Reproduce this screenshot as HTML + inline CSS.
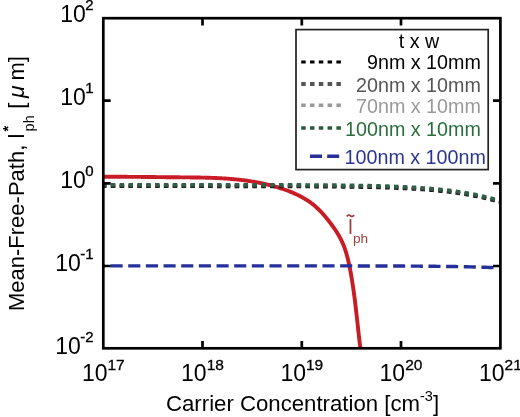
<!DOCTYPE html>
<html><head><meta charset="utf-8"><style>
html,body{margin:0;padding:0;background:#fff;}
body{width:520px;height:417px;overflow:hidden;}
svg{display:block;}
text{font-family:"Liberation Sans", Arial, Helvetica, sans-serif;}
</style></head><body>
<svg width="520" height="417" viewBox="0 0 520 417">
<rect width="520" height="417" fill="#fff"/>
<defs><clipPath id="ax"><rect x="103.3" y="18.2" width="397.10" height="330.10"/></clipPath></defs>
<g clip-path="url(#ax)" fill="none">
 <path d="M103.30,176.81 L104.05,176.81 L104.79,176.80 L105.54,176.80 L106.29,176.80 L107.03,176.80 L107.78,176.79 L108.53,176.79 L109.27,176.79 L110.02,176.79 L110.77,176.79 L111.52,176.78 L112.26,176.78 L113.01,176.78 L113.76,176.78 L114.50,176.78 L115.25,176.78 L116.00,176.78 L116.74,176.79 L117.49,176.79 L118.24,176.79 L118.98,176.79 L119.73,176.79 L120.48,176.79 L121.22,176.80 L121.97,176.80 L122.72,176.80 L123.46,176.80 L124.21,176.81 L124.96,176.81 L125.70,176.81 L126.45,176.82 L127.20,176.82 L127.94,176.83 L128.69,176.83 L129.44,176.83 L130.18,176.84 L130.93,176.84 L131.68,176.85 L132.42,176.85 L133.17,176.86 L133.92,176.86 L134.66,176.87 L135.41,176.88 L136.16,176.88 L136.90,176.89 L137.65,176.89 L138.40,176.90 L139.14,176.91 L139.89,176.91 L140.64,176.92 L141.38,176.93 L142.13,176.93 L142.88,176.94 L143.62,176.95 L144.37,176.95 L145.12,176.96 L145.86,176.97 L146.61,176.98 L147.36,176.98 L148.10,176.99 L148.85,177.00 L149.60,177.01 L150.34,177.01 L151.09,177.02 L151.84,177.03 L152.58,177.04 L153.33,177.05 L154.08,177.05 L154.82,177.06 L155.57,177.07 L156.32,177.08 L157.06,177.09 L157.81,177.10 L158.56,177.10 L159.30,177.11 L160.05,177.12 L160.80,177.13 L161.55,177.14 L162.29,177.14 L163.04,177.15 L163.79,177.16 L164.53,177.17 L165.28,177.18 L166.03,177.19 L166.77,177.19 L167.52,177.20 L168.27,177.21 L169.01,177.22 L169.76,177.23 L170.51,177.23 L171.26,177.24 L172.00,177.25 L172.75,177.26 L173.50,177.26 L174.24,177.27 L174.99,177.28 L175.74,177.29 L176.49,177.29 L177.23,177.30 L177.98,177.31 L178.73,177.32 L179.47,177.32 L180.22,177.33 L180.97,177.34 L181.72,177.34 L182.46,177.35 L183.21,177.36 L183.96,177.36 L184.71,177.37 L185.45,177.38 L186.20,177.38 L186.95,177.39 L187.70,177.40 L188.44,177.41 L189.19,177.41 L189.94,177.42 L190.69,177.43 L191.43,177.44 L192.18,177.45 L192.93,177.45 L193.68,177.46 L194.42,177.47 L195.17,177.48 L195.92,177.49 L196.66,177.50 L197.41,177.52 L198.16,177.53 L198.91,177.54 L199.65,177.55 L200.40,177.57 L201.15,177.58 L201.89,177.60 L202.64,177.61 L203.39,177.63 L204.14,177.64 L204.88,177.66 L205.63,177.68 L206.38,177.70 L207.12,177.72 L207.87,177.74 L208.61,177.76 L209.36,177.78 L210.11,177.81 L210.85,177.83 L211.60,177.86 L212.35,177.88 L213.09,177.91 L213.84,177.94 L214.58,177.97 L215.33,178.00 L216.07,178.03 L216.82,178.07 L217.56,178.10 L218.31,178.14 L219.06,178.17 L219.80,178.21 L220.55,178.25 L221.29,178.29 L222.03,178.33 L222.78,178.38 L223.52,178.42 L224.27,178.47 L225.01,178.51 L225.76,178.56 L226.50,178.61 L227.24,178.67 L227.99,178.72 L228.73,178.78 L229.47,178.83 L230.22,178.89 L230.96,178.95 L231.70,179.01 L232.45,179.08 L233.19,179.14 L233.93,179.21 L234.67,179.28 L235.41,179.35 L236.16,179.42 L236.90,179.50 L237.64,179.57 L238.38,179.65 L239.12,179.73 L239.86,179.82 L240.60,179.90 L241.34,179.99 L242.08,180.08 L242.82,180.17 L243.56,180.26 L244.30,180.35 L245.04,180.45 L245.78,180.55 L246.52,180.65 L247.26,180.76 L248.00,180.86 L248.74,180.97 L249.48,181.08 L250.21,181.19 L250.95,181.31 L251.69,181.43 L252.43,181.55 L253.16,181.67 L253.90,181.79 L254.63,181.92 L255.37,182.05 L256.10,182.18 L256.84,182.32 L257.57,182.45 L258.31,182.59 L259.04,182.74 L259.77,182.88 L260.50,183.03 L261.24,183.18 L261.97,183.33 L262.70,183.49 L263.43,183.65 L264.16,183.81 L264.89,183.97 L265.62,184.14 L266.34,184.31 L267.07,184.48 L267.80,184.65 L268.52,184.83 L269.25,185.01 L269.97,185.19 L270.70,185.38 L271.42,185.57 L272.14,185.76 L272.86,185.96 L273.58,186.15 L274.30,186.36 L275.02,186.56 L275.74,186.77 L276.46,186.98 L277.17,187.19 L277.89,187.41 L278.60,187.62 L279.32,187.85 L280.03,188.07 L280.74,188.30 L281.45,188.53 L282.17,188.77 L282.87,189.01 L283.58,189.25 L284.29,189.49 L285.00,189.74 L285.70,189.99 L286.41,190.25 L287.11,190.51 L287.81,190.77 L288.51,191.03 L289.21,191.30 L289.91,191.58 L290.60,191.85 L291.30,192.13 L291.99,192.42 L292.68,192.71 L293.37,193.00 L294.05,193.30 L294.74,193.60 L295.42,193.91 L296.10,194.22 L296.77,194.53 L297.45,194.85 L298.12,195.18 L298.79,195.51 L299.45,195.84 L300.12,196.18 L300.78,196.52 L301.43,196.87 L302.09,197.23 L302.74,197.58 L303.38,197.95 L304.02,198.32 L304.66,198.69 L305.30,199.08 L305.93,199.46 L306.56,199.85 L307.18,200.25 L307.80,200.66 L308.42,201.07 L309.03,201.48 L309.64,201.91 L310.24,202.33 L310.84,202.77 L311.43,203.21 L312.02,203.66 L312.60,204.11 L313.18,204.57 L313.76,205.04 L314.33,205.51 L314.89,205.99 L315.45,206.48 L316.00,206.97 L316.55,207.46 L317.10,207.97 L317.64,208.48 L318.18,208.99 L318.71,209.51 L319.24,210.04 L319.76,210.57 L320.28,211.10 L320.80,211.64 L321.31,212.19 L321.82,212.73 L322.32,213.29 L322.83,213.84 L323.32,214.40 L323.82,214.97 L324.31,215.53 L324.80,216.11 L325.28,216.68 L325.77,217.26 L326.25,217.84 L326.72,218.42 L327.20,219.00 L327.67,219.59 L328.14,220.18 L328.60,220.77 L329.07,221.37 L329.53,221.96 L329.99,222.56 L330.45,223.16 L330.90,223.76 L331.35,224.36 L331.80,224.97 L332.25,225.57 L332.69,226.18 L333.13,226.79 L333.56,227.40 L334.00,228.02 L334.42,228.64 L334.85,229.26 L335.27,229.88 L335.68,230.50 L336.09,231.13 L336.50,231.76 L336.90,232.39 L337.29,233.02 L337.69,233.66 L338.07,234.29 L338.45,234.94 L338.83,235.58 L339.19,236.23 L339.56,236.87 L339.91,237.53 L340.27,238.18 L340.61,238.84 L340.95,239.50 L341.28,240.16 L341.60,240.83 L341.92,241.50 L342.23,242.17 L342.53,242.84 L342.83,243.52 L343.12,244.20 L343.40,244.89 L343.68,245.57 L343.94,246.26 L344.21,246.95 L344.46,247.65 L344.71,248.35 L344.96,249.05 L345.19,249.75 L345.43,250.45 L345.65,251.16 L345.87,251.87 L346.09,252.58 L346.30,253.29 L346.51,254.00 L346.71,254.72 L346.91,255.43 L347.10,256.15 L347.29,256.87 L347.48,257.59 L347.66,258.32 L347.84,259.04 L348.01,259.77 L348.19,260.49 L348.35,261.22 L348.52,261.95 L348.68,262.68 L348.84,263.41 L349.00,264.14 L349.16,264.87 L349.31,265.60 L349.46,266.33 L349.61,267.07 L349.76,267.80 L349.90,268.53 L350.05,269.26 L350.19,270.00 L350.33,270.73 L350.47,271.47 L350.61,272.20 L350.74,272.94 L350.88,273.67 L351.01,274.41 L351.14,275.14 L351.27,275.88 L351.40,276.62 L351.53,277.35 L351.65,278.09 L351.78,278.83 L351.90,279.56 L352.02,280.30 L352.14,281.04 L352.26,281.78 L352.38,282.52 L352.49,283.25 L352.61,283.99 L352.72,284.73 L352.84,285.47 L352.95,286.21 L353.06,286.95 L353.17,287.69 L353.27,288.43 L353.38,289.17 L353.49,289.91 L353.59,290.65 L353.70,291.39 L353.80,292.13 L353.90,292.87 L354.00,293.62 L354.10,294.36 L354.20,295.10 L354.30,295.84 L354.39,296.58 L354.49,297.32 L354.59,298.07 L354.68,298.81 L354.77,299.55 L354.87,300.29 L354.96,301.03 L355.05,301.78 L355.14,302.52 L355.23,303.26 L355.32,304.01 L355.41,304.75 L355.50,305.49 L355.59,306.23 L355.68,306.98 L355.76,307.72 L355.85,308.46 L355.94,309.21 L356.02,309.95 L356.11,310.69 L356.19,311.44 L356.28,312.18 L356.36,312.92 L356.44,313.67 L356.53,314.41 L356.61,315.15 L356.69,315.90 L356.77,316.64 L356.86,317.38 L356.94,318.13 L357.02,318.87 L357.10,319.61 L357.18,320.36 L357.27,321.10 L357.35,321.84 L357.43,322.59 L357.51,323.33 L357.59,324.07 L357.67,324.82 L357.75,325.56 L357.83,326.30 L357.92,327.04 L358.00,327.79 L358.08,328.53 L358.16,329.27 L358.24,330.01 L358.33,330.76 L358.41,331.50 L358.49,332.24 L358.57,332.98 L358.66,333.72 L358.74,334.47 L358.82,335.21 L358.91,335.95 L358.99,336.69 L359.08,337.43 L359.16,338.17 L359.25,338.91 L359.33,339.65 L359.42,340.39 L359.51,341.13 L359.60,341.87 L359.68,342.61 L359.77,343.35 L359.86,344.09 L359.95,344.83 L360.04,345.57 L360.14,346.31 L360.23,347.05 L360.32,347.79 L360.41,348.52 L360.51,349.26 L360.60,350.00" stroke="#c81c27" stroke-width="3.9"/>
 <path d="M103.30,186.40 L105.30,186.40 L107.30,186.40 L109.30,186.40 L111.30,186.40 L113.30,186.40 L115.30,186.40 L117.30,186.40 L119.30,186.40 L121.30,186.40 L123.30,186.40 L125.30,186.40 L127.30,186.40 L129.30,186.40 L131.30,186.40 L133.30,186.40 L135.30,186.40 L137.30,186.40 L139.30,186.40 L141.30,186.40 L143.30,186.41 L145.30,186.41 L147.30,186.41 L149.30,186.41 L151.30,186.41 L153.30,186.41 L155.30,186.41 L157.30,186.41 L159.30,186.41 L161.30,186.41 L163.30,186.41 L165.30,186.41 L167.30,186.41 L169.30,186.41 L171.30,186.41 L173.30,186.41 L175.30,186.41 L177.30,186.41 L179.30,186.41 L181.30,186.41 L183.30,186.41 L185.30,186.41 L187.30,186.41 L189.30,186.41 L191.30,186.42 L193.30,186.42 L195.30,186.42 L197.30,186.42 L199.30,186.42 L201.30,186.42 L203.30,186.42 L205.30,186.42 L207.30,186.42 L209.30,186.42 L211.30,186.42 L213.30,186.43 L215.30,186.43 L217.30,186.43 L219.30,186.43 L221.30,186.43 L223.30,186.43 L225.30,186.43 L227.30,186.44 L229.30,186.44 L231.30,186.44 L233.30,186.44 L235.30,186.44 L237.30,186.45 L239.30,186.45 L241.30,186.45 L243.30,186.45 L245.30,186.45 L247.30,186.46 L249.30,186.46 L251.30,186.46 L253.30,186.47 L255.30,186.47 L257.30,186.47 L259.30,186.48 L261.30,186.48 L263.30,186.48 L265.30,186.49 L267.30,186.49 L269.30,186.49 L271.30,186.50 L273.30,186.50 L275.30,186.51 L277.30,186.51 L279.30,186.52 L281.30,186.53 L283.30,186.53 L285.30,186.54 L287.30,186.54 L289.30,186.55 L291.30,186.56 L293.30,186.57 L295.30,186.57 L297.30,186.58 L299.30,186.59 L301.30,186.60 L303.30,186.61 L305.30,186.62 L307.30,186.63 L309.30,186.64 L311.30,186.65 L313.30,186.66 L315.30,186.68 L317.30,186.69 L319.30,186.70 L321.30,186.72 L323.30,186.73 L325.30,186.75 L327.30,186.76 L329.30,186.78 L331.30,186.80 L333.30,186.82 L335.30,186.84 L337.30,186.86 L339.30,186.88 L341.30,186.90 L343.30,186.93 L345.30,186.95 L347.30,186.98 L349.30,187.00 L351.30,187.03 L353.30,187.06 L355.30,187.09 L357.30,187.12 L359.30,187.16 L361.30,187.19 L363.30,187.23 L365.30,187.27 L367.30,187.31 L369.30,187.35 L371.30,187.40 L373.30,187.45 L375.30,187.49 L377.30,187.55 L379.30,187.60 L381.30,187.66 L383.30,187.71 L385.30,187.78 L387.30,187.84 L389.30,187.91 L391.30,187.98 L393.30,188.05 L395.30,188.13 L397.30,188.21 L399.30,188.29 L401.30,188.38 L403.30,188.47 L405.30,188.56 L407.30,188.66 L409.30,188.77 L411.30,188.87 L413.30,188.99 L415.30,189.11 L417.30,189.23 L419.30,189.36 L421.30,189.49 L423.30,189.63 L425.30,189.78 L427.30,189.93 L429.30,190.09 L431.30,190.26 L433.30,190.43 L435.30,190.61 L437.30,190.80 L439.30,191.00 L441.30,191.20 L443.30,191.42 L445.30,191.64 L447.30,191.87 L449.30,192.11 L451.30,192.36 L453.30,192.62 L455.30,192.89 L457.30,193.17 L459.30,193.46 L461.30,193.76 L463.30,194.08 L465.30,194.40 L467.30,194.74 L469.30,195.09 L471.30,195.46 L473.30,195.84 L475.30,196.23 L477.30,196.64 L479.30,197.06 L481.30,197.49 L483.30,197.94 L485.30,198.41 L487.30,198.89 L489.30,199.39 L491.30,199.90 L493.30,200.43 L495.30,200.98 L497.30,201.54 L499.30,202.12" stroke="#0a0a0a" stroke-width="3.4" stroke-dasharray="4.5 4.35" stroke-dashoffset="1.35"/>
 <path d="M103.30,185.70 L105.30,185.70 L107.30,185.70 L109.30,185.70 L111.30,185.70 L113.30,185.70 L115.30,185.70 L117.30,185.70 L119.30,185.70 L121.30,185.70 L123.30,185.70 L125.30,185.70 L127.30,185.70 L129.30,185.70 L131.30,185.70 L133.30,185.70 L135.30,185.70 L137.30,185.70 L139.30,185.70 L141.30,185.70 L143.30,185.71 L145.30,185.71 L147.30,185.71 L149.30,185.71 L151.30,185.71 L153.30,185.71 L155.30,185.71 L157.30,185.71 L159.30,185.71 L161.30,185.71 L163.30,185.71 L165.30,185.71 L167.30,185.71 L169.30,185.71 L171.30,185.71 L173.30,185.71 L175.30,185.71 L177.30,185.71 L179.30,185.71 L181.30,185.71 L183.30,185.71 L185.30,185.71 L187.30,185.71 L189.30,185.71 L191.30,185.72 L193.30,185.72 L195.30,185.72 L197.30,185.72 L199.30,185.72 L201.30,185.72 L203.30,185.72 L205.30,185.72 L207.30,185.72 L209.30,185.72 L211.30,185.72 L213.30,185.73 L215.30,185.73 L217.30,185.73 L219.30,185.73 L221.30,185.73 L223.30,185.73 L225.30,185.73 L227.30,185.74 L229.30,185.74 L231.30,185.74 L233.30,185.74 L235.30,185.74 L237.30,185.75 L239.30,185.75 L241.30,185.75 L243.30,185.75 L245.30,185.75 L247.30,185.76 L249.30,185.76 L251.30,185.76 L253.30,185.77 L255.30,185.77 L257.30,185.77 L259.30,185.78 L261.30,185.78 L263.30,185.78 L265.30,185.79 L267.30,185.79 L269.30,185.79 L271.30,185.80 L273.30,185.80 L275.30,185.81 L277.30,185.81 L279.30,185.82 L281.30,185.83 L283.30,185.83 L285.30,185.84 L287.30,185.84 L289.30,185.85 L291.30,185.86 L293.30,185.87 L295.30,185.87 L297.30,185.88 L299.30,185.89 L301.30,185.90 L303.30,185.91 L305.30,185.92 L307.30,185.93 L309.30,185.94 L311.30,185.95 L313.30,185.96 L315.30,185.98 L317.30,185.99 L319.30,186.00 L321.30,186.02 L323.30,186.03 L325.30,186.05 L327.30,186.06 L329.30,186.08 L331.30,186.10 L333.30,186.12 L335.30,186.14 L337.30,186.16 L339.30,186.18 L341.30,186.20 L343.30,186.23 L345.30,186.25 L347.30,186.28 L349.30,186.30 L351.30,186.33 L353.30,186.36 L355.30,186.39 L357.30,186.42 L359.30,186.46 L361.30,186.49 L363.30,186.53 L365.30,186.57 L367.30,186.61 L369.30,186.65 L371.30,186.70 L373.30,186.75 L375.30,186.79 L377.30,186.85 L379.30,186.90 L381.30,186.96 L383.30,187.01 L385.30,187.08 L387.30,187.14 L389.30,187.21 L391.30,187.28 L393.30,187.35 L395.30,187.43 L397.30,187.51 L399.30,187.59 L401.30,187.68 L403.30,187.77 L405.30,187.86 L407.30,187.96 L409.30,188.07 L411.30,188.17 L413.30,188.29 L415.30,188.41 L417.30,188.53 L419.30,188.66 L421.30,188.79 L423.30,188.93 L425.30,189.08 L427.30,189.23 L429.30,189.39 L431.30,189.56 L433.30,189.73 L435.30,189.91 L437.30,190.10 L439.30,190.30 L441.30,190.50 L443.30,190.72 L445.30,190.94 L447.30,191.17 L449.30,191.41 L451.30,191.66 L453.30,191.92 L455.30,192.19 L457.30,192.47 L459.30,192.76 L461.30,193.06 L463.30,193.38 L465.30,193.70 L467.30,194.04 L469.30,194.39 L471.30,194.76 L473.30,195.14 L475.30,195.53 L477.30,195.94 L479.30,196.36 L481.30,196.79 L483.30,197.24 L485.30,197.71 L487.30,198.19 L489.30,198.69 L491.30,199.20 L493.30,199.73 L495.30,200.28 L497.30,200.84 L499.30,201.42" stroke="#3a3a3a" stroke-width="3.4" stroke-dasharray="4.5 4.35" stroke-dashoffset="1.35"/>
 <path d="M103.30,184.70 L105.30,184.70 L107.30,184.70 L109.30,184.70 L111.30,184.70 L113.30,184.70 L115.30,184.70 L117.30,184.70 L119.30,184.70 L121.30,184.70 L123.30,184.70 L125.30,184.70 L127.30,184.70 L129.30,184.70 L131.30,184.70 L133.30,184.70 L135.30,184.70 L137.30,184.70 L139.30,184.70 L141.30,184.70 L143.30,184.71 L145.30,184.71 L147.30,184.71 L149.30,184.71 L151.30,184.71 L153.30,184.71 L155.30,184.71 L157.30,184.71 L159.30,184.71 L161.30,184.71 L163.30,184.71 L165.30,184.71 L167.30,184.71 L169.30,184.71 L171.30,184.71 L173.30,184.71 L175.30,184.71 L177.30,184.71 L179.30,184.71 L181.30,184.71 L183.30,184.71 L185.30,184.71 L187.30,184.71 L189.30,184.71 L191.30,184.72 L193.30,184.72 L195.30,184.72 L197.30,184.72 L199.30,184.72 L201.30,184.72 L203.30,184.72 L205.30,184.72 L207.30,184.72 L209.30,184.72 L211.30,184.72 L213.30,184.73 L215.30,184.73 L217.30,184.73 L219.30,184.73 L221.30,184.73 L223.30,184.73 L225.30,184.73 L227.30,184.74 L229.30,184.74 L231.30,184.74 L233.30,184.74 L235.30,184.74 L237.30,184.75 L239.30,184.75 L241.30,184.75 L243.30,184.75 L245.30,184.75 L247.30,184.76 L249.30,184.76 L251.30,184.76 L253.30,184.77 L255.30,184.77 L257.30,184.77 L259.30,184.78 L261.30,184.78 L263.30,184.78 L265.30,184.79 L267.30,184.79 L269.30,184.79 L271.30,184.80 L273.30,184.80 L275.30,184.81 L277.30,184.81 L279.30,184.82 L281.30,184.83 L283.30,184.83 L285.30,184.84 L287.30,184.84 L289.30,184.85 L291.30,184.86 L293.30,184.87 L295.30,184.87 L297.30,184.88 L299.30,184.89 L301.30,184.90 L303.30,184.91 L305.30,184.92 L307.30,184.93 L309.30,184.94 L311.30,184.95 L313.30,184.96 L315.30,184.98 L317.30,184.99 L319.30,185.00 L321.30,185.02 L323.30,185.03 L325.30,185.05 L327.30,185.06 L329.30,185.08 L331.30,185.10 L333.30,185.12 L335.30,185.14 L337.30,185.16 L339.30,185.18 L341.30,185.20 L343.30,185.23 L345.30,185.25 L347.30,185.28 L349.30,185.30 L351.30,185.33 L353.30,185.36 L355.30,185.39 L357.30,185.42 L359.30,185.46 L361.30,185.49 L363.30,185.53 L365.30,185.57 L367.30,185.61 L369.30,185.65 L371.30,185.70 L373.30,185.75 L375.30,185.79 L377.30,185.85 L379.30,185.90 L381.30,185.96 L383.30,186.01 L385.30,186.08 L387.30,186.14 L389.30,186.21 L391.30,186.28 L393.30,186.35 L395.30,186.43 L397.30,186.51 L399.30,186.59 L401.30,186.68 L403.30,186.77 L405.30,186.86 L407.30,186.96 L409.30,187.07 L411.30,187.17 L413.30,187.29 L415.30,187.41 L417.30,187.53 L419.30,187.66 L421.30,187.79 L423.30,187.93 L425.30,188.08 L427.30,188.23 L429.30,188.39 L431.30,188.56 L433.30,188.73 L435.30,188.91 L437.30,189.10 L439.30,189.30 L441.30,189.50 L443.30,189.72 L445.30,189.94 L447.30,190.17 L449.30,190.41 L451.30,190.66 L453.30,190.92 L455.30,191.19 L457.30,191.47 L459.30,191.76 L461.30,192.06 L463.30,192.38 L465.30,192.70 L467.30,193.04 L469.30,193.39 L471.30,193.76 L473.30,194.14 L475.30,194.53 L477.30,194.94 L479.30,195.36 L481.30,195.79 L483.30,196.24 L485.30,196.71 L487.30,197.19 L489.30,197.69 L491.30,198.20 L493.30,198.73 L495.30,199.28 L497.30,199.84 L499.30,200.42" stroke="#30604a" stroke-width="3.6" stroke-dasharray="4.5 4.35" stroke-dashoffset="1.35"/>
 <path d="M103.30,265.85 L105.30,265.85 L107.30,265.85 L109.30,265.85 L111.30,265.85 L113.30,265.85 L115.30,265.85 L117.30,265.85 L119.30,265.85 L121.30,265.85 L123.30,265.85 L125.30,265.85 L127.30,265.85 L129.30,265.85 L131.30,265.85 L133.30,265.85 L135.30,265.85 L137.30,265.85 L139.30,265.85 L141.30,265.85 L143.30,265.85 L145.30,265.85 L147.30,265.85 L149.30,265.85 L151.30,265.85 L153.30,265.85 L155.30,265.85 L157.30,265.85 L159.30,265.85 L161.30,265.85 L163.30,265.85 L165.30,265.85 L167.30,265.85 L169.30,265.85 L171.30,265.85 L173.30,265.85 L175.30,265.85 L177.30,265.85 L179.30,265.85 L181.30,265.85 L183.30,265.85 L185.30,265.85 L187.30,265.85 L189.30,265.85 L191.30,265.85 L193.30,265.85 L195.30,265.85 L197.30,265.85 L199.30,265.85 L201.30,265.85 L203.30,265.85 L205.30,265.85 L207.30,265.85 L209.30,265.85 L211.30,265.85 L213.30,265.85 L215.30,265.85 L217.30,265.85 L219.30,265.85 L221.30,265.85 L223.30,265.85 L225.30,265.85 L227.30,265.85 L229.30,265.85 L231.30,265.85 L233.30,265.85 L235.30,265.85 L237.30,265.85 L239.30,265.85 L241.30,265.86 L243.30,265.86 L245.30,265.86 L247.30,265.86 L249.30,265.86 L251.30,265.86 L253.30,265.86 L255.30,265.86 L257.30,265.86 L259.30,265.86 L261.30,265.86 L263.30,265.86 L265.30,265.86 L267.30,265.86 L269.30,265.86 L271.30,265.86 L273.30,265.86 L275.30,265.86 L277.30,265.86 L279.30,265.86 L281.30,265.86 L283.30,265.86 L285.30,265.86 L287.30,265.86 L289.30,265.87 L291.30,265.87 L293.30,265.87 L295.30,265.87 L297.30,265.87 L299.30,265.87 L301.30,265.87 L303.30,265.87 L305.30,265.87 L307.30,265.87 L309.30,265.87 L311.30,265.88 L313.30,265.88 L315.30,265.88 L317.30,265.88 L319.30,265.88 L321.30,265.88 L323.30,265.88 L325.30,265.89 L327.30,265.89 L329.30,265.89 L331.30,265.89 L333.30,265.89 L335.30,265.90 L337.30,265.90 L339.30,265.90 L341.30,265.90 L343.30,265.90 L345.30,265.91 L347.30,265.91 L349.30,265.91 L351.30,265.92 L353.30,265.92 L355.30,265.92 L357.30,265.93 L359.30,265.93 L361.30,265.93 L363.30,265.94 L365.30,265.94 L367.30,265.94 L369.30,265.95 L371.30,265.95 L373.30,265.96 L375.30,265.96 L377.30,265.97 L379.30,265.98 L381.30,265.98 L383.30,265.99 L385.30,265.99 L387.30,266.00 L389.30,266.01 L391.30,266.02 L393.30,266.02 L395.30,266.03 L397.30,266.04 L399.30,266.05 L401.30,266.06 L403.30,266.07 L405.30,266.08 L407.30,266.09 L409.30,266.10 L411.30,266.11 L413.30,266.13 L415.30,266.14 L417.30,266.15 L419.30,266.17 L421.30,266.18 L423.30,266.20 L425.30,266.21 L427.30,266.23 L429.30,266.25 L431.30,266.27 L433.30,266.29 L435.30,266.31 L437.30,266.33 L439.30,266.35 L441.30,266.38 L443.30,266.40 L445.30,266.43 L447.30,266.45 L449.30,266.48 L451.30,266.51 L453.30,266.54 L455.30,266.57 L457.30,266.61 L459.30,266.64 L461.30,266.68 L463.30,266.72 L465.30,266.76 L467.30,266.80 L469.30,266.85 L471.30,266.90 L473.30,266.94 L475.30,267.00 L477.30,267.05 L479.30,267.11 L481.30,267.16 L483.30,267.23 L485.30,267.29 L487.30,267.36 L489.30,267.43 L491.30,267.50 L493.30,267.58 L495.30,267.66 L497.30,267.74 L499.30,267.83" stroke="#25309a" stroke-width="3.4" stroke-dasharray="12.1 5.56" stroke-dashoffset="10.4"/>
</g>
<g stroke="#000" stroke-width="2.7" fill="none">
 <rect x="103.3" y="18.2" width="397.10" height="330.10"/>
 <path d="M202.5,348.3v-7.2 M301.8,348.3v-7.2 M401,348.3v-7.2 M202.5,18.2v7.2 M301.8,18.2v7.2 M401,18.2v7.2
          M103.3,100.7h7.4 M103.3,183.3h7.4 M103.3,266h7.4 M500.4,100.7h-7.4 M500.4,183.3h-7.4 M500.4,266h-7.4"/>
</g>
<g font-size="23" fill="#000" text-anchor="end">
 <text x="93.6" y="22.3">10<tspan font-size="15" dx="-0.6" dy="-12" stroke="#000" stroke-width="0.35">2</tspan></text>
 <text x="93.6" y="105.4">10<tspan font-size="15" dx="-0.6" dy="-12" stroke="#000" stroke-width="0.35">1</tspan></text>
 <text x="93.6" y="188.3">10<tspan font-size="15" dx="-0.6" dy="-12" stroke="#000" stroke-width="0.35">0</tspan></text>
 <text x="93.6" y="270.9">10<tspan font-size="15" dx="-0.6" dy="-12" stroke="#000" stroke-width="0.35">-1</tspan></text>
 <text x="93.6" y="353.6">10<tspan font-size="15" dx="-0.6" dy="-12" stroke="#000" stroke-width="0.35">-2</tspan></text>
</g>
<g font-size="23" fill="#000" text-anchor="middle">
 <text x="103.3" y="381">10<tspan font-size="15.5" dy="-11.3" stroke="#000" stroke-width="0.3">17</tspan></text>
 <text x="202.5" y="381">10<tspan font-size="15.5" dy="-11.3" stroke="#000" stroke-width="0.3">18</tspan></text>
 <text x="301.8" y="381">10<tspan font-size="15.5" dy="-11.3" stroke="#000" stroke-width="0.3">19</tspan></text>
 <text x="401" y="381">10<tspan font-size="15.5" dy="-11.3" stroke="#000" stroke-width="0.3">20</tspan></text>
 <text x="500.4" y="381">10<tspan font-size="15.5" dy="-11.3" stroke="#000" stroke-width="0.3">21</tspan></text>
</g>
<text x="166" y="411.2" font-size="22.2" fill="#000">Carrier Concentration [cm<tspan font-size="14.5" dy="-10.5">-3</tspan><tspan dy="10.5">]</tspan></text>
<g transform="translate(23.5,311) rotate(-90)" fill="#000" font-size="22">
 <text x="0" y="0">Mean-Free-Path, l</text>
 <text x="179.4" y="-11" font-size="14.5" font-weight="bold">*</text>
 <text x="179.6" y="10.8" font-size="14.5">ph</text>
 <text x="202.2" y="0">[</text>
 <text x="213" y="0" font-family='"Liberation Serif", "Times New Roman", serif' font-style="italic" font-size="23">μ</text>
 <text x="230.5" y="0">m]</text>
</g>
<text x="348.2" y="233.6" font-size="20" fill="#9a4040">l</text>
<text x="353" y="243.2" font-size="13.6" fill="#9a4040">ph</text>
<path d="M346.8,216.6 q1.8,-2.4 3.7,-0.8 t3.6,-0.8" stroke="#9a4040" stroke-width="1.7" fill="none"/>
<rect x="296" y="29.6" width="192.2" height="140" fill="#fff" stroke="#222" stroke-width="1.7"/>
<g fill="none" stroke-dasharray="4.5 4.3">
 <path d="M301.2,62H342" stroke="#000" stroke-width="3"/>
 <path d="M301.2,84H342" stroke="#555" stroke-width="3.8"/>
 <path d="M301.2,105.3H342" stroke="#999" stroke-width="3.6"/>
 <path d="M301.2,127.9H342" stroke="#275c3b" stroke-width="3.5"/>
</g>
<path d="M310,156.3H340" stroke="#25309a" stroke-width="3.6" stroke-dasharray="12 5.2" fill="none"/>
<g font-size="19.7" text-anchor="end">
 <text x="419" y="48" fill="#000" text-anchor="middle">t x w</text>
 <text x="480.8" y="68.6" fill="#000">9nm x 10mm</text>
 <text x="480.8" y="91.8" fill="#555">20nm x 10mm</text>
 <text x="480.8" y="113" fill="#999">70nm x 10mm</text>
 <text x="480.8" y="135.5" fill="#2a6e3e">100nm x 10mm</text>
 <text x="485.8" y="164.2" fill="#2b3590">100nm x 100nm</text>
</g>
</svg>
</body></html>
